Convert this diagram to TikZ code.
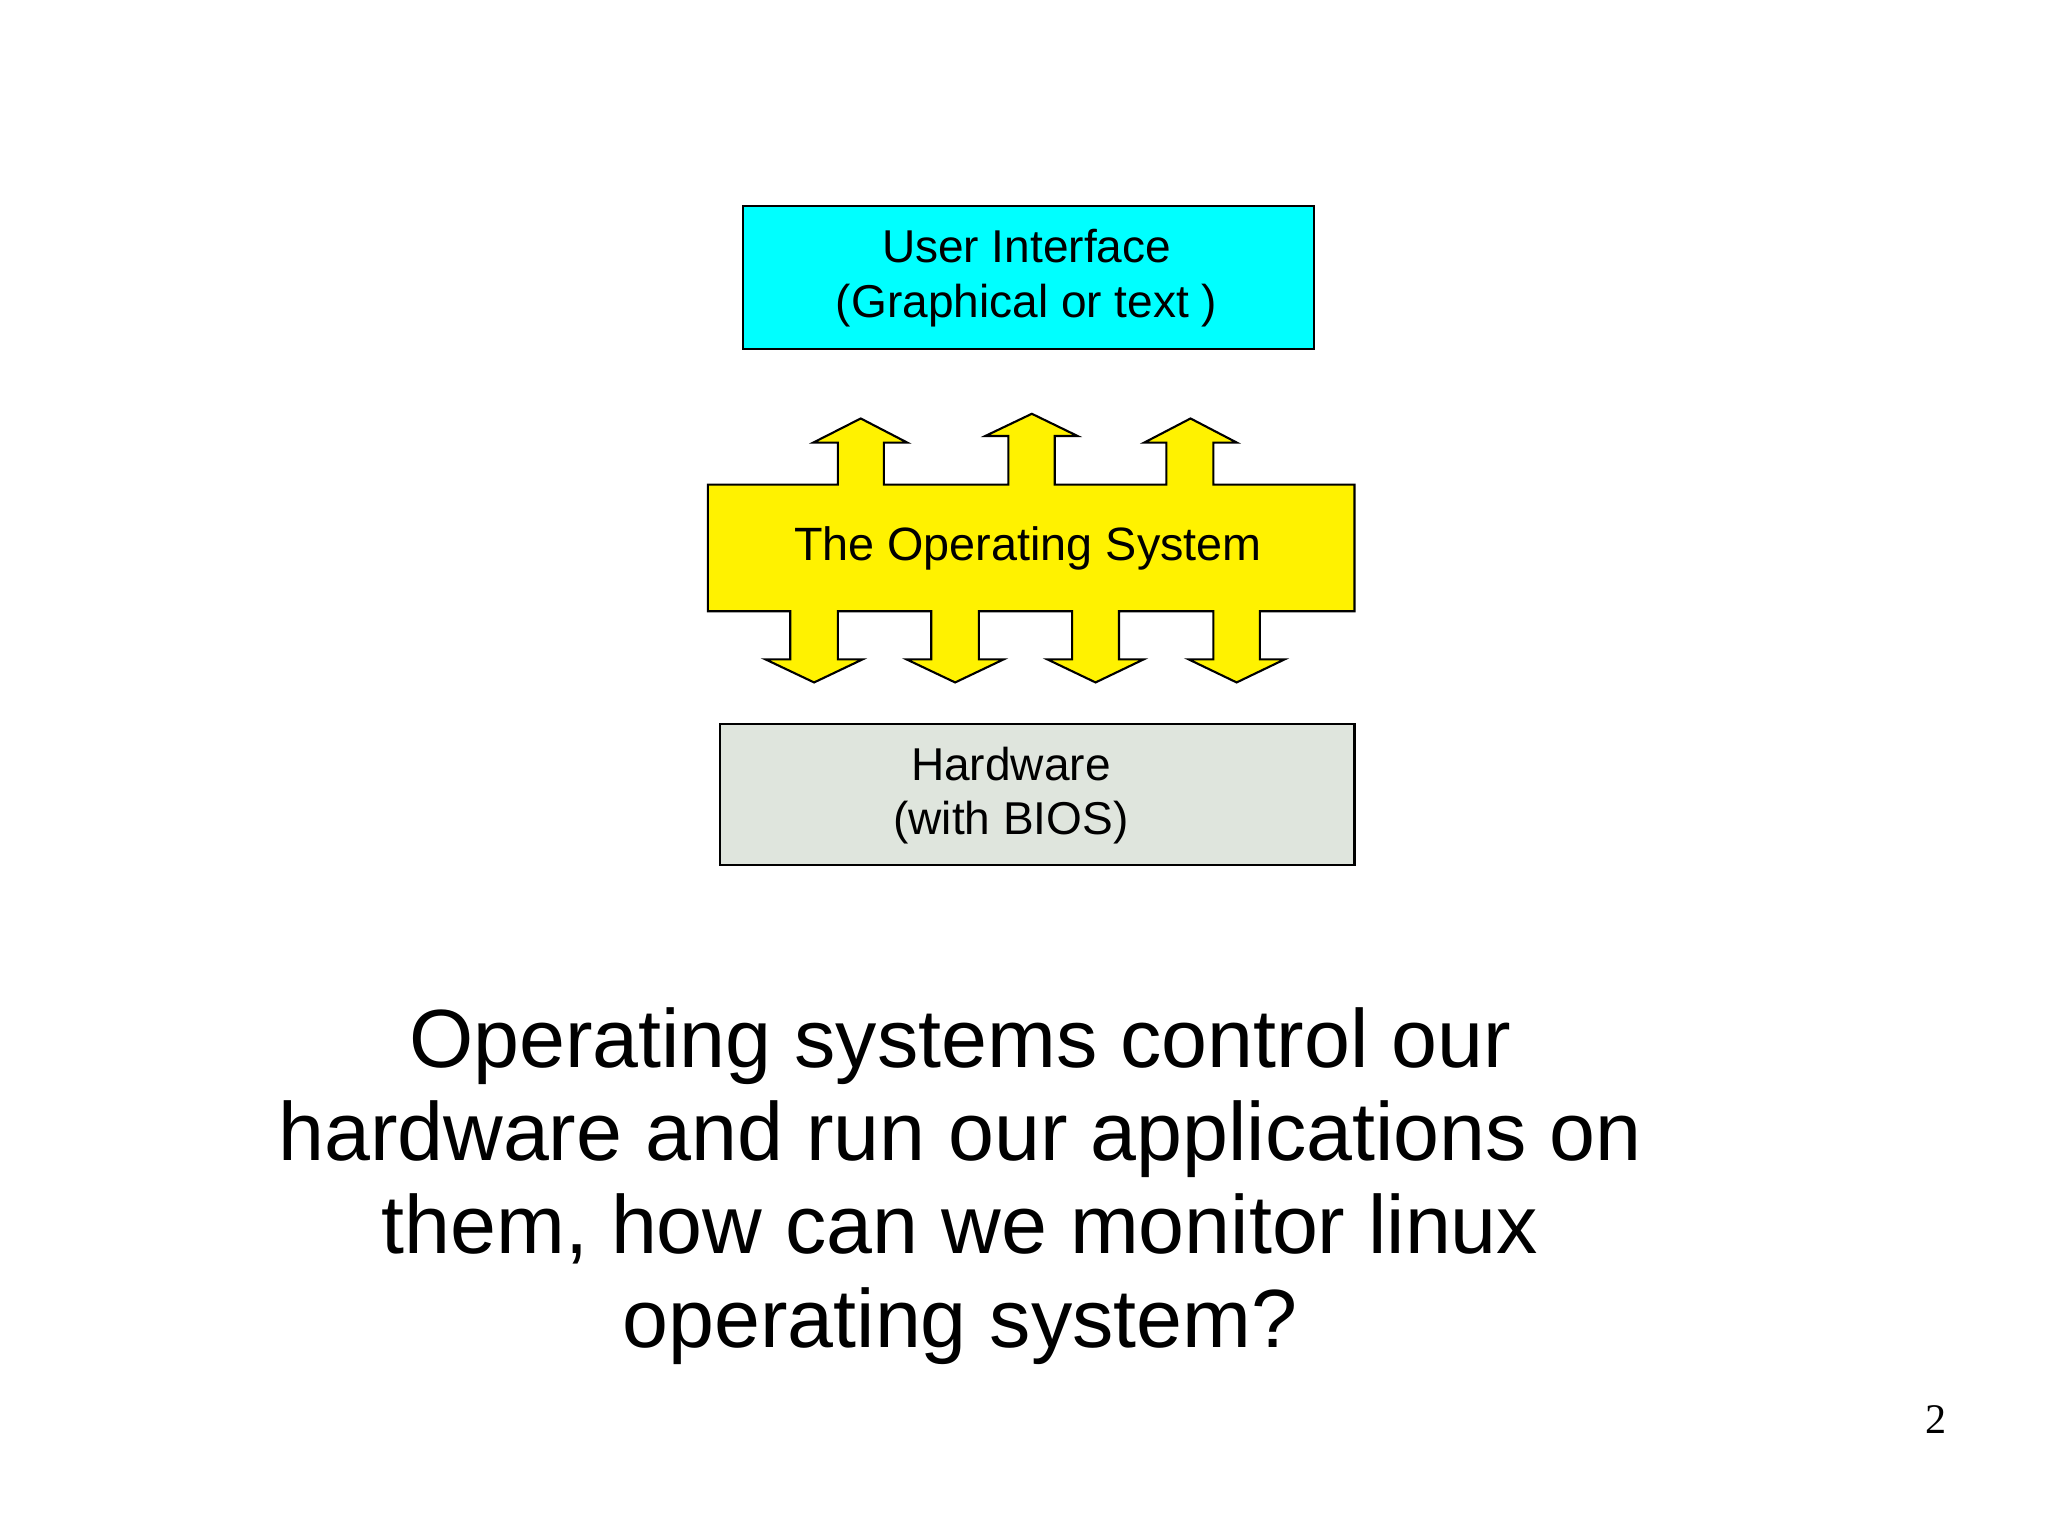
\documentclass[tikz,border=0pt]{standalone}
\usepackage{fontspec}
\setmainfont{Liberation Sans}
\newfontfamily\serifnum{Liberation Serif}
\begin{document}
\begin{tikzpicture}[x=0.01306cm,y=-0.01306cm,
  box/.style={draw=black,line width=0.6pt},
  lbl/.style={align=center,font=\fontsize{13.1}{15.5}\selectfont}]
\useasboundingbox (0,0) rectangle (1568,1175.3);
\fill[white] (0,0) rectangle (1568,1175.3);
% User interface
\node[box,fill={rgb,255:red,0;green,255;blue,255},minimum width=437*0.01306cm,minimum height=109*0.01306cm,inner sep=0pt] (ui) at (787.5,212.5) {};
\node[lbl] (uit) at (786,213) {User Interface\\(Graphical or text )};
% Hardware
\node[box,fill={rgb,255:red,223;green,229;blue,221},minimum width=486*0.01306cm,minimum height=108*0.01306cm,inner sep=0pt] (hw) at (794,608) {};
\node[lbl] (hwt) at (774,609) {Hardware\\(with BIOS)};
% OS shape
\draw[box,fill=yellow,line join=miter]
 (542,371) -- (641.5,371) -- (641.5,338.9) -- (622.6,338.9) -- (659,320.4) -- (694.7,338.9) -- (676.7,338.9) -- (676.7,371)
 -- (772,371) -- (772,333.8) -- (754.4,333.8) -- (790,316.8) -- (825,333.8) -- (807.5,333.8) -- (807.5,371)
 -- (893,371) -- (893,338.9) -- (876,338.9) -- (911.5,320.4) -- (947,338.9) -- (929,338.9) -- (929,371)
 -- (1037,371) -- (1037,468)
 -- (964.6,468) -- (964.6,504.8) -- (983.6,504.8) -- (946.8,522.5) -- (910,504.8) -- (929,504.8) -- (929,468)
 -- (856.7,468) -- (856.7,504.8) -- (875.7,504.8) -- (838.8,522.5) -- (801.8,504.8) -- (820.8,504.8) -- (820.8,468)
 -- (749.5,468) -- (749.5,504.8) -- (768.5,504.8) -- (731.3,522.5) -- (694,504.8) -- (713,504.8) -- (713,468)
 -- (641.5,468) -- (641.5,504.8) -- (660.5,504.8) -- (623.3,522.5) -- (586,504.8) -- (605,504.8) -- (605,468)
 -- (542,468) -- cycle;
\node[font=\fontsize{13.3}{16}\selectfont] (os) at (787,420) {The Operating System};
% caption
\node[align=center,font=\fontsize{23.5}{26.5}\selectfont] (cap) at (735,908) {Operating systems control our\\hardware and run our applications on\\them, how can we monitor linux\\operating system?};
\node[font=\serifnum\fontsize{12}{14}\selectfont] (pg) at (1482,1087) {2};
\end{tikzpicture}
\end{document}
